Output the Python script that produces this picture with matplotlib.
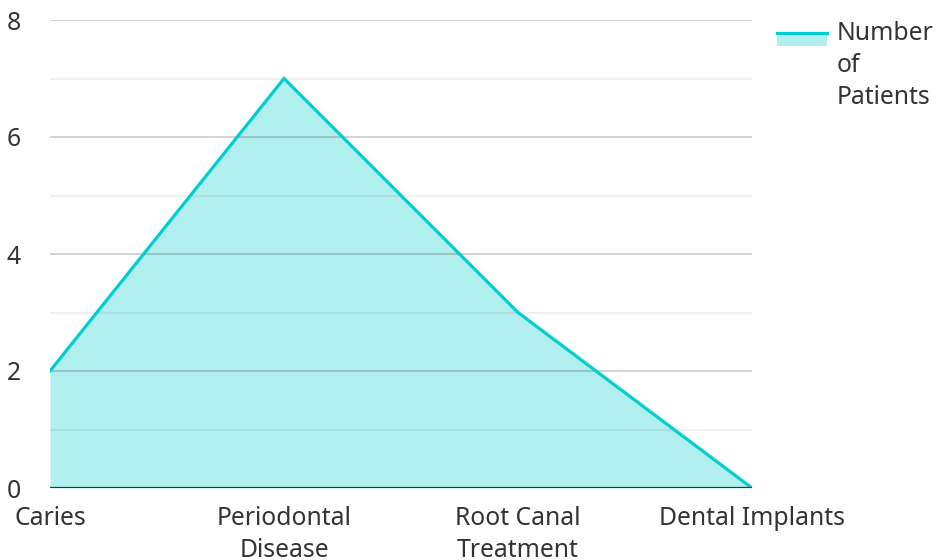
import matplotlib
matplotlib.use("Agg")
import matplotlib.pyplot as plt
from matplotlib.lines import Line2D
from matplotlib.patches import Rectangle

categories = ["Caries", "Periodontal\nDisease", "Root Canal\nTreatment", "Dental Implants"]
patients = [2, 7, 3, 0]
y_ticks = [0, 2, 4, 6, 8]
series_name = "Number\nof\nPatients"

plt.rcParams['font.family'] = ['Noto Sans', 'DejaVu Sans']
line_color = "#00CED1"
fill_color = "#B2EFEF"
text_color = "#333333"
fs = 17.8

fig = plt.figure(figsize=(9.38, 5.6), dpi=100)
ax = fig.add_axes([50/938, 72/560, 702/938, 468/560])
x = list(range(len(categories)))
ax.fill_between(x, patients, 0, color=fill_color, zorder=2, lw=0)
ax.plot(x, patients, color=line_color, lw=2.3, zorder=3, solid_joinstyle='miter')

ax.set_xlim(0, len(categories) - 1)
ax.set_ylim(0, 8)
for v in range(1, 9):
    ax.axhline(v, color="#000000", alpha=0.2 if v % 2 == 0 else 0.075, lw=1.2, zorder=2.5)
ax.axhline(0, color="#333333", lw=1.6, zorder=4)

for s in ax.spines.values():
    s.set_visible(False)
ax.set_yticks(y_ticks)
ax.set_yticklabels([str(t) for t in y_ticks])
ax.set_xticks(x)
ax.set_xticklabels(categories, linespacing=1.38)
ax.tick_params(axis='both', length=0, labelsize=fs, colors=text_color)
ax.tick_params(axis='y', pad=26)
ax.tick_params(axis='x', pad=13)
for lbl in ax.get_yticklabels():
    lbl.set_horizontalalignment('center')

# legend
fig.patches.append(Rectangle((777/938, (560-46)/560), 50/938, 13/560,
                             transform=fig.transFigure, color=fill_color, lw=0))
fig.lines.append(Line2D([777/938, 827/938], [(560-33)/560]*2,
                        transform=fig.transFigure, color=line_color, lw=2.3))
fig.text(837/938, (560-21)/560, series_name, fontsize=fs, color=text_color,
         va='top', ha='left', linespacing=1.38, transform=fig.transFigure)

fig.savefig("out.png", dpi=100)
